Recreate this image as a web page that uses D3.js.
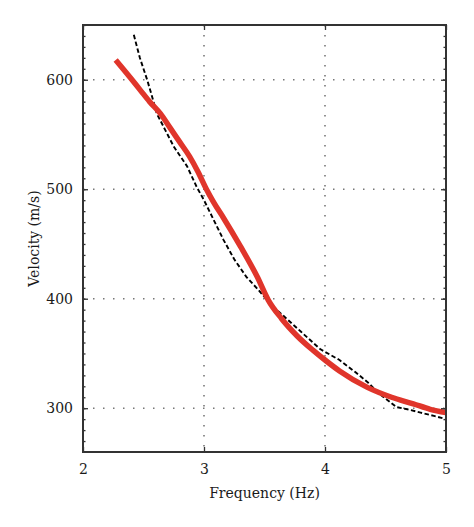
<!DOCTYPE html>
<html>
<head>
<meta charset="utf-8">
<script src="https://cdn.jsdelivr.net/npm/d3@7"></script>
<style>
	body { margin: 0; background: #fff; }
	text { font-family: "DejaVu Serif", "Liberation Serif", serif; fill: #1a1a1a; }
</style>
</head>
<body>
<div id="container"></div>
<script>
// measured dispersion curve (red) and theoretical curve (dashed)
var measuredFreq = [2.27, 2.39, 2.47, 2.55, 2.64, 2.72, 2.80, 2.88, 2.95, 3.02, 3.08, 3.16, 3.30, 3.44, 3.53, 3.64, 3.77, 3.90, 4.00, 4.12, 4.35, 4.55, 4.73, 4.87, 5.00];
var measuredVel  = [618, 602, 591, 580, 569, 556, 543, 530, 516, 500, 488, 474, 448, 420, 399, 382, 366, 353, 344, 334, 319, 310, 304, 299, 296];

var theoryFreq = [2.42, 2.47, 2.53, 2.57, 2.61, 2.68, 2.75, 2.86, 2.94, 3.00, 3.08, 3.16, 3.25, 3.35, 3.45, 3.52, 3.60, 3.68, 3.80, 3.96, 4.12, 4.25, 4.35, 4.45, 4.51, 4.59, 4.68, 4.79, 4.90, 5.00];
var theoryVel  = [641, 620, 600, 585, 569, 554, 539, 521, 502, 490, 472, 454, 436, 420, 408, 399, 390, 382, 370, 354, 344, 333, 324, 313, 308, 301, 299, 296, 293, 290];

var xTicks = [2, 3, 4, 5];
var yTicks = [300, 400, 500, 600];
var xDomain = [2, 5];
var yDomain = [260, 650];

(function()
{
	var W = 474, H = 527;
	var margin = {left: 83, top: 25, right: 28, bottom: 75};
	var w = W - margin.left - margin.right;
	var h = H - margin.top - margin.bottom;

	var svg = d3.select("#container").append("svg").attr("width", W).attr("height", H);
	var g = svg.append("g").attr("transform", "translate(" + margin.left + "," + margin.top + ")");

	var x = d3.scaleLinear().domain(xDomain).range([0, w]);
	var y = d3.scaleLinear().domain(yDomain).range([h, 0]);
	var minorY = d3.range(270, 651, 10);

	// dotted grid
	g.append("g").selectAll("line").data(yTicks).enter().append("line")
		.attr("x1", 0).attr("x2", w).attr("y1", y).attr("y2", y)
		.attr("stroke", "#777").attr("stroke-width", 1.6).attr("stroke-dasharray", "1.5,8.5");
	g.append("g").selectAll("line").data(xTicks.slice(1, -1)).enter().append("line")
		.attr("y1", 0).attr("y2", h).attr("x1", x).attr("x2", x)
		.attr("stroke", "#777").attr("stroke-width", 1.6).attr("stroke-dasharray", "1.5,8.5");

	// curves
	var pts = function(fs, vs) { return fs.map(function(f, i) { return [f, vs[i]]; }); };
	var line = d3.line().x(function(d) { return x(d[0]); }).y(function(d) { return y(d[1]); });

	g.append("path").datum(pts(theoryFreq, theoryVel))
		.attr("d", line).attr("fill", "none").attr("stroke", "#000")
		.attr("stroke-width", 1.9).attr("stroke-dasharray", "4.5,2.5");
	g.append("path").datum(pts(measuredFreq, measuredVel))
		.attr("d", line.curve(d3.curveMonotoneX)).attr("fill", "none").attr("stroke", "#e0352b")
		.attr("stroke-width", 5.5).attr("stroke-linecap", "butt");

	// axes (ticks inside)
	function styleAxis(sel) {
		sel.select(".domain").remove();
		sel.selectAll("line").attr("stroke", "#333").attr("stroke-width", 1.3);
	}
	g.append("g").call(d3.axisLeft(y).tickValues(minorY).tickSize(-2.5).tickFormat("")).call(styleAxis);
	g.append("g").attr("transform", "translate(" + w + ",0)")
		.call(d3.axisRight(y).tickValues(minorY).tickSize(-2.5).tickFormat("")).call(styleAxis);
	g.append("g").call(d3.axisLeft(y).tickValues(yTicks).tickSize(-5).tickPadding(10).tickFormat(d3.format("d")))
		.call(styleAxis).selectAll("text").style("font-size", "14px").attr("fill", "#1a1a1a");
	g.append("g").attr("transform", "translate(" + w + ",0)")
		.call(d3.axisRight(y).tickValues(yTicks).tickSize(-5).tickFormat("")).call(styleAxis);
	g.append("g").attr("transform", "translate(0," + h + ")")
		.call(d3.axisBottom(x).tickValues(xTicks).tickSize(-5).tickPadding(12).tickFormat(d3.format("d")))
		.call(styleAxis).selectAll("text").style("font-size", "14px").attr("fill", "#1a1a1a");
	g.append("g").call(d3.axisTop(x).tickValues(xTicks).tickSize(-5).tickFormat("")).call(styleAxis);

	// frame
	g.append("rect").attr("width", w).attr("height", h)
		.attr("fill", "none").attr("stroke", "#333").attr("stroke-width", 2);

	// labels
	svg.append("text").attr("x", margin.left + w / 2).attr("y", 498)
		.attr("text-anchor", "middle").style("font-size", "14px").text("Frequency (Hz)");
	svg.append("text").attr("transform", "translate(39," + (margin.top + h / 2) + ") rotate(-90)")
		.attr("text-anchor", "middle").style("font-size", "14px").text("Velocity (m/s)");
})();
</script>
</body>
</html>
